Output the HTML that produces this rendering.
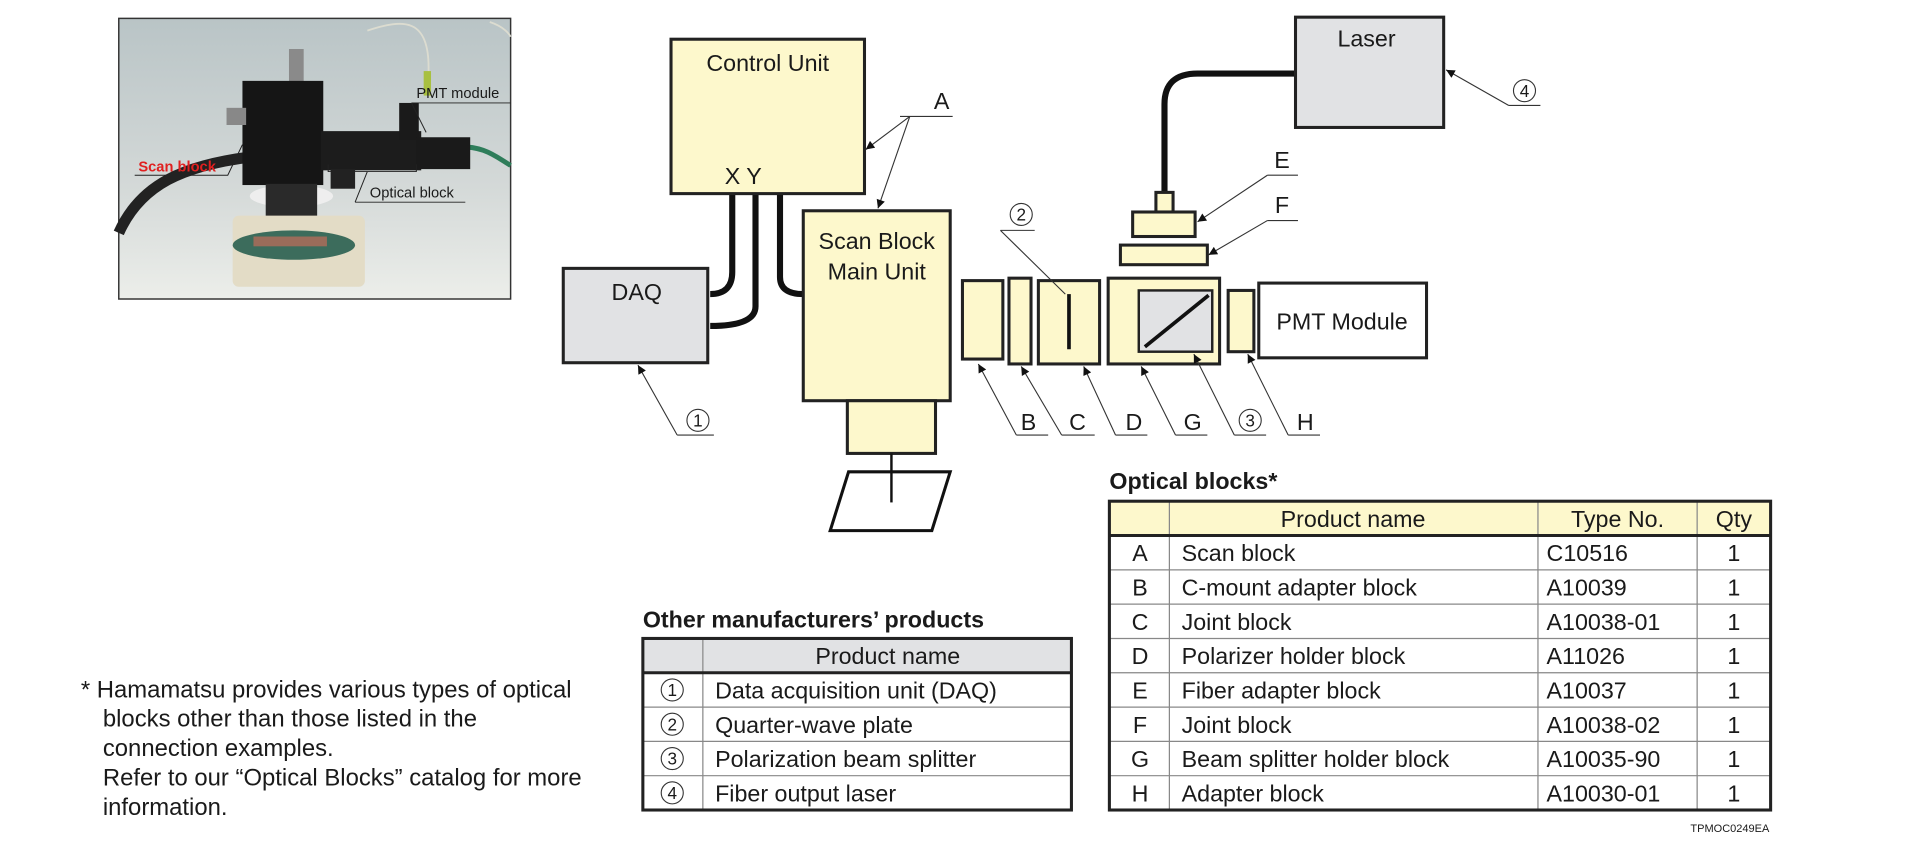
<!DOCTYPE html>
<html><head><meta charset="utf-8"><style>
html,body{margin:0;padding:0;background:#fff;}
svg{display:block;}
text{font-family:"Liberation Sans",Arial,sans-serif;fill:#1a1a1a;}
</style></head><body>
<svg width="1920" height="848" viewBox="0 0 1568 692" preserveAspectRatio="none" xmlns="http://www.w3.org/2000/svg">
<defs>
<marker id="ar" viewBox="0 0 10 10" refX="10" refY="5" markerWidth="9" markerHeight="7" orient="auto" markerUnits="userSpaceOnUse"><path d="M0,0 L10,5 L0,10 z" fill="#111"/></marker>
<linearGradient id="bg" x1="0" y1="0" x2="0" y2="1"><stop offset="0" stop-color="#b9c4c6"/><stop offset="0.6" stop-color="#d4d9d8"/><stop offset="1" stop-color="#eceeea"/></linearGradient>
</defs>

<!-- Photo -->
<rect x="97" y="15" width="320" height="229" fill="url(#bg)" stroke="#333" stroke-width="1.2"/>
<path d="M97,190 C115,150 150,135 205,128" stroke="#222" stroke-width="9" fill="none"/>
<path d="M300,25 C330,15 350,15 350,55 L350,70" stroke="#dcdcd0" stroke-width="1.5" fill="none"/>
<path d="M400,18 C412,22 416,28 417,30" stroke="#dcdcd0" stroke-width="1.5" fill="none"/>
<rect x="346" y="58" width="6" height="20" fill="#a8c040"/>
<path d="M370,120 C395,118 405,128 417,135" stroke="#2e7d5a" stroke-width="4" fill="none"/>
<rect x="236" y="40" width="12" height="28" fill="#8a8a8a"/>
<rect x="198" y="66" width="66" height="85" fill="#151515"/>
<rect x="185" y="88" width="16" height="14" fill="#888"/>
<rect x="262" y="107" width="82" height="32" fill="#1c1c1c"/>
<rect x="326" y="84" width="16" height="30" fill="#1a1a1a"/>
<rect x="340" y="112" width="44" height="26" fill="#1a1a1a"/>
<rect x="270" y="138" width="20" height="16" fill="#222"/>
<ellipse cx="238" cy="160" rx="34" ry="9" fill="#eee"/>
<rect x="217" y="150" width="42" height="40" fill="#2a2a2a"/>
<rect x="190" y="176" width="108" height="58" rx="5" fill="#e3dcc6"/>
<ellipse cx="240" cy="200" rx="50" ry="12" fill="#3c6c5c"/>
<rect x="207" y="193" width="60" height="8" fill="#9a6c5a"/>
<text x="340" y="80" font-size="12">PMT module</text>
<path d="M336,84 L417,84" stroke="#222" stroke-width="0.8"/>
<path d="M336,84 L348,108" stroke="#222" stroke-width="0.8"/>
<text x="113" y="140" font-size="12" font-weight="bold" style="fill:#e02020">Scan block</text>
<path d="M110,143 L186,143 L198,118" stroke="#222" stroke-width="0.8" fill="none"/>
<text x="302" y="161" font-size="12">Optical block</text>
<path d="M290,165 L380,165 M290,165 L300,140" stroke="#222" stroke-width="0.8" fill="none"/>
<path d="M268,134 L268,140 L340,140 L340,134" stroke="#222" stroke-width="0.8" fill="none"/>

<!-- Cables -->
<g stroke="#111" stroke-width="5" fill="none">
<path d="M598,158 L598,222 Q598,240 580,240"/>
<path d="M617,158 L617,250 Q617,266 580,266"/>
<path d="M637,158 L637,226 Q637,240 656,240"/>
<path d="M951,157 L951,85 Q951,60 978,60 L1058,60"/>
</g>

<!-- Control unit -->
<rect x="548" y="32" width="158" height="126" fill="#fdf8cc" stroke="#222" stroke-width="2.5"/>
<text x="627" y="58" font-size="19" text-anchor="middle">Control Unit</text>
<text x="607" y="150" font-size="19" text-anchor="middle">X Y</text>
<!-- Scan block main unit -->
<rect x="656" y="172" width="120" height="155" fill="#fdf8cc" stroke="#222" stroke-width="2.5"/>
<text x="716" y="203" font-size="19" text-anchor="middle">Scan Block</text>
<text x="716" y="228" font-size="19" text-anchor="middle">Main Unit</text>
<rect x="692" y="327" width="72" height="43" fill="#fdf8cc" stroke="#222" stroke-width="2.5"/>
<path d="M728,370 L728,410" stroke="#111" stroke-width="2"/>
<path d="M693,385 L776,385 L761,433 L678,433 Z" fill="none" stroke="#111" stroke-width="2.5"/>
<!-- DAQ -->
<rect x="460" y="219" width="118" height="77" fill="#e1e2e4" stroke="#222" stroke-width="2.5"/>
<text x="520" y="245" font-size="19" text-anchor="middle">DAQ</text>

<!-- Optical blocks -->
<g stroke="#222" stroke-width="2.5" fill="#fdf8cc">
<rect x="786" y="229" width="33" height="64"/>
<rect x="824" y="227" width="18" height="70"/>
<rect x="848" y="229" width="50" height="68"/>
<rect x="905" y="227" width="91" height="70"/>
<rect x="930" y="237" width="60" height="50" fill="#e1e2e4" stroke-width="2"/>
<rect x="1003" y="237" width="21" height="50"/>
<rect x="944" y="157" width="14" height="16"/>
<rect x="925" y="173" width="51" height="20"/>
<rect x="915" y="200" width="71" height="16"/>
<rect x="1028" y="231" width="137" height="61" fill="#fff"/>
</g>
<path d="M873,240 L873,285" stroke="#111" stroke-width="3"/>
<path d="M935,283 L987,241" stroke="#111" stroke-width="3"/>
<text x="1096" y="269" font-size="19" text-anchor="middle">PMT Module</text>
<!-- Laser -->
<rect x="1058" y="14" width="121" height="90" fill="#e1e2e4" stroke="#222" stroke-width="2.5"/>
<text x="1116" y="38" font-size="19" text-anchor="middle">Laser</text>

<!-- Leaders -->
<g stroke="#333" stroke-width="0.9" fill="none">
<path d="M735,95 L778,95"/><path d="M743,95 L707,122" marker-end="url(#ar)"/><path d="M743,95 L717,170" marker-end="url(#ar)"/>
<path d="M553,355 L583,355"/><path d="M553,355 L521,298" marker-end="url(#ar)"/>
<path d="M1232,86 L1258,86"/><path d="M1232,86 L1181,57" marker-end="url(#ar)"/>
<path d="M1035,143 L1060,143"/><path d="M1035,143 L978,181" marker-end="url(#ar)"/>
<path d="M1035,180 L1060,180"/><path d="M1035,180 L987,208" marker-end="url(#ar)"/>
<path d="M817,188 L845,188"/><path d="M817,188 L870,240"/>
<path d="M830,355 L856,355"/><path d="M830,355 L799,297" marker-end="url(#ar)"/>
<path d="M867,355 L894,355"/><path d="M867,355 L834,299" marker-end="url(#ar)"/>
<path d="M911,355 L937,355"/><path d="M911,355 L885,299" marker-end="url(#ar)"/>
<path d="M960,355 L986,355"/><path d="M960,355 L932,299" marker-end="url(#ar)"/>
<path d="M1008,355 L1034,355"/><path d="M1008,355 L975,289" marker-end="url(#ar)"/>
<path d="M1052,355 L1078,355"/><path d="M1052,355 L1019,289" marker-end="url(#ar)"/>
</g>
<g font-size="19" text-anchor="middle">
<text x="769" y="89">A</text>
<text x="1047" y="137">E</text>
<text x="1047" y="174">F</text>
<text x="840" y="351">B</text>
<text x="880" y="351">C</text>
<text x="926" y="351">D</text>
<text x="974" y="351">G</text>
<text x="1066" y="351">H</text>
</g>
<g fill="none" stroke="#333" stroke-width="0.9">
<circle cx="570" cy="343" r="9"/><circle cx="834" cy="175" r="9"/><circle cx="1021" cy="343" r="9"/><circle cx="1245" cy="74" r="9"/>
</g>
<g font-size="14" text-anchor="middle">
<text x="570" y="348">1</text><text x="834" y="180">2</text><text x="1021" y="348">3</text><text x="1245" y="79">4</text>
</g>

<!-- Optical blocks table -->
<text x="906" y="399" font-size="19" font-weight="bold">Optical blocks*</text>
<rect x="906" y="409" width="540" height="28" fill="#fdf8cc"/>
<g stroke="#888" stroke-width="1">
<path d="M955,409 L955,661 M1256,409 L1256,661 M1386,409 L1386,661"/>
<path d="M906,465 L1446,465 M906,493 L1446,493 M906,521 L1446,521 M906,549 L1446,549 M906,577 L1446,577 M906,605 L1446,605 M906,633 L1446,633"/>
</g>
<path d="M906,437 L1446,437" stroke="#222" stroke-width="2.5"/>
<rect x="906" y="409" width="540" height="252" fill="none" stroke="#222" stroke-width="2.5"/>
<g font-size="19">
<text x="1105" y="430" text-anchor="middle">Product name</text>
<text x="1321" y="430" text-anchor="middle">Type No.</text>
<text x="1416" y="430" text-anchor="middle">Qty</text>
<g text-anchor="middle"><text x="931" y="458">A</text><text x="931" y="486">B</text><text x="931" y="514">C</text><text x="931" y="542">D</text><text x="931" y="570">E</text><text x="931" y="598">F</text><text x="931" y="626">G</text><text x="931" y="654">H</text></g>
<text x="965" y="458">Scan block</text><text x="965" y="486">C-mount adapter block</text><text x="965" y="514">Joint block</text><text x="965" y="542">Polarizer holder block</text><text x="965" y="570">Fiber adapter block</text><text x="965" y="598">Joint block</text><text x="965" y="626">Beam splitter holder block</text><text x="965" y="654">Adapter block</text>
<text x="1263" y="458">C10516</text><text x="1263" y="486">A10039</text><text x="1263" y="514">A10038-01</text><text x="1263" y="542">A11026</text><text x="1263" y="570">A10037</text><text x="1263" y="598">A10038-02</text><text x="1263" y="626">A10035-90</text><text x="1263" y="654">A10030-01</text>
<g text-anchor="middle"><text x="1416" y="458">1</text><text x="1416" y="486">1</text><text x="1416" y="514">1</text><text x="1416" y="542">1</text><text x="1416" y="570">1</text><text x="1416" y="598">1</text><text x="1416" y="626">1</text><text x="1416" y="654">1</text></g>
</g>

<!-- Other manufacturers table -->
<text x="525" y="512" font-size="19" font-weight="bold">Other manufacturers’ products</text>
<rect x="525" y="521" width="350" height="28" fill="#e1e2e4"/>
<g stroke="#888" stroke-width="1">
<path d="M574,521 L574,661"/>
<path d="M525,577 L875,577 M525,605 L875,605 M525,633 L875,633"/>
</g>
<path d="M525,549 L875,549" stroke="#222" stroke-width="2.5"/>
<rect x="525" y="521" width="350" height="140" fill="none" stroke="#222" stroke-width="2.5"/>
<g fill="none" stroke="#333" stroke-width="0.9">
<circle cx="549" cy="563" r="9"/><circle cx="549" cy="591" r="9"/><circle cx="549" cy="619" r="9"/><circle cx="549" cy="647" r="9"/>
</g>
<g font-size="14" text-anchor="middle">
<text x="549" y="568">1</text><text x="549" y="596">2</text><text x="549" y="624">3</text><text x="549" y="652">4</text>
</g>
<g font-size="19">
<text x="725" y="542" text-anchor="middle">Product name</text>
<text x="584" y="570">Data acquisition unit (DAQ)</text>
<text x="584" y="598">Quarter-wave plate</text>
<text x="584" y="626">Polarization beam splitter</text>
<text x="584" y="654">Fiber output laser</text>
</g>

<!-- Footnote -->
<g font-size="19.5">
<text x="66" y="569">* Hamamatsu provides various types of optical</text>
<text x="84" y="593">blocks other than those listed in the</text>
<text x="84" y="617">connection examples.</text>
<text x="84" y="641">Refer to our “Optical Blocks” catalog for more</text>
<text x="84" y="665">information.</text>
</g>
<text x="1445" y="679" font-size="9" text-anchor="end">TPMOC0249EA</text>
</svg>
</body></html>
